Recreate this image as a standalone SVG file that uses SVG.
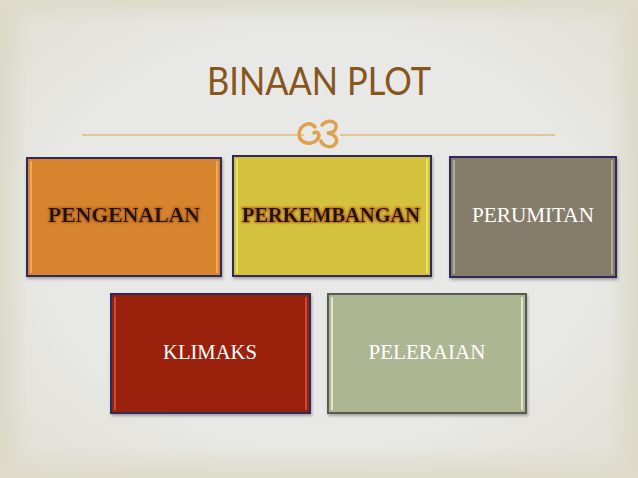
<svg xmlns="http://www.w3.org/2000/svg" width="638" height="478" viewBox="0 0 638 478">
<defs>
<radialGradient id="bg" cx="50%" cy="50%" r="75%">
<stop offset="0.55" stop-color="#e8e8e6"/>
<stop offset="1" stop-color="#d9d6c2"/>
</radialGradient>
<linearGradient id="lside" x1="0" y1="0" x2="1" y2="0">
<stop offset="0" stop-color="#dcd9c6"/>
<stop offset="1" stop-color="#dcd9c6" stop-opacity="0"/>
</linearGradient>
<linearGradient id="rside" x1="1" y1="0" x2="0" y2="0">
<stop offset="0" stop-color="#dcd9c6"/>
<stop offset="1" stop-color="#dcd9c6" stop-opacity="0"/>
</linearGradient>
<linearGradient id="tside" x1="0" y1="0" x2="0" y2="1">
<stop offset="0" stop-color="#dedbc9"/>
<stop offset="1" stop-color="#dedbc9" stop-opacity="0"/>
</linearGradient>
<linearGradient id="bside" x1="0" y1="1" x2="0" y2="0">
<stop offset="0" stop-color="#dedbc9"/>
<stop offset="1" stop-color="#dedbc9" stop-opacity="0"/>
</linearGradient>
<filter id="sh" x="-5%" y="-5%" width="115%" height="115%">
<feDropShadow dx="1" dy="2" stdDeviation="1.5" flood-color="#000" flood-opacity="0.3"/>
</filter>
<filter id="glow" x="-5%" y="-20%" width="110%" height="140%">
<feMorphology in="SourceAlpha" operator="dilate" radius="0.6" result="d"/>
<feGaussianBlur in="d" stdDeviation="1" result="b"/>
<feFlood flood-color="#b0581a" flood-opacity="0.85"/>
<feComposite in2="b" operator="in" result="g"/>
<feMerge><feMergeNode in="g"/><feMergeNode in="SourceGraphic"/></feMerge>
</filter>
</defs>
<style>
.box{stroke:#2f2a5c;stroke-width:2;filter:url(#sh)}
.hl{fill:none;stroke-width:2;stroke-opacity:0.8}
.dark{font-family:"Liberation Serif","DejaVu Serif",serif;font-weight:bold;font-size:20px;fill:#1e120a}
.light{font-family:"Liberation Serif","DejaVu Serif",serif;font-size:20px;fill:#ffffff}
</style>
<rect x="0" y="0" width="638" height="478" fill="#e8e8e6"/>
<rect x="0" y="0" width="638" height="478" fill="url(#bg)" opacity="0.6"/>
<rect x="0" y="0" width="28" height="478" fill="url(#lside)"/>
<rect x="610" y="0" width="28" height="478" fill="url(#rside)"/>
<rect x="0" y="0" width="638" height="22" fill="url(#tside)"/>
<rect x="0" y="448" width="638" height="30" fill="url(#bside)"/>

<g id="title">
<text x="319" y="95" text-anchor="middle" font-family="Lato,'Open Sans','Liberation Sans',sans-serif" font-weight="400" font-size="39" fill="#86561c" textLength="224" lengthAdjust="spacingAndGlyphs">BINAAN PLOT</text>
<line x1="82" y1="135" x2="304" y2="135" stroke="#e2bb7c" stroke-width="1.3"/>
<line x1="340" y1="135" x2="555" y2="135" stroke="#e2bb7c" stroke-width="1.3"/>
<g fill="none" stroke="#dfa14c" stroke-width="3.5" stroke-linecap="round">
<path d="M315 127 C309 120 299 126 299 135 C300 143 310 146 317 140 C321 135 318 130 314 133"/>
<path d="M322 125 C329 118 340 122 335 130 C333 133 329 133 327 133 C336 134 340 141 333 146 C328 148 322 145 321 141"/>
</g>
</g>

<g id="pengenalan">
<rect class="box" x="27" y="158" width="194" height="118" fill="#d6852f"/>
<path class="hl" d="M31 161 V273" stroke="#f4b060"/>
<path class="hl" d="M217 161 V273" stroke="#f4b060"/>
<text class="dark" x="124" y="222" text-anchor="middle" textLength="152" lengthAdjust="spacingAndGlyphs" filter="url(#glow)">PENGENALAN</text>
</g>

<g id="perkembangan">
<rect class="box" x="233" y="156" width="198" height="120" fill="#d4c13e"/>
<path class="hl" d="M237 159 V273" stroke="#f4ea70"/>
<path class="hl" d="M427 159 V273" stroke="#f4ea70"/>
<text class="dark" x="331" y="222" text-anchor="middle" textLength="178" lengthAdjust="spacingAndGlyphs" filter="url(#glow)">PERKEMBANGAN</text>
</g>

<g id="perumitan">
<rect class="box" x="450" y="157" width="166" height="120" fill="#857b6a"/>
<path class="hl" d="M454 160 V274" stroke="#bdb5a5"/>
<path class="hl" d="M612 160 V274" stroke="#bdb5a5"/>
<text class="light" x="533" y="222" text-anchor="middle" textLength="122" lengthAdjust="spacingAndGlyphs">PERUMITAN</text>
</g>

<g id="klimaks">
<rect class="box" x="111" y="294" width="199" height="119" fill="#9a220c"/>
<path class="hl" d="M115 297 V410" stroke="#d8553a"/>
<path class="hl" d="M306 297 V410" stroke="#d8553a"/>
<text class="light" x="210" y="359" text-anchor="middle" textLength="94" lengthAdjust="spacingAndGlyphs">KLIMAKS</text>
</g>

<g id="peleraian">
<rect class="box" x="328" y="294" width="198" height="119" fill="#adb693" style="stroke:#5a5a55"/>
<path class="hl" d="M332 297 V410" stroke="#eef2d8"/>
<path class="hl" d="M522 297 V410" stroke="#eef2d8"/>
<text class="light" x="427" y="359" text-anchor="middle" textLength="117" lengthAdjust="spacingAndGlyphs">PELERAIAN</text>
</g>

<g id="connectors"></g>
</svg>
